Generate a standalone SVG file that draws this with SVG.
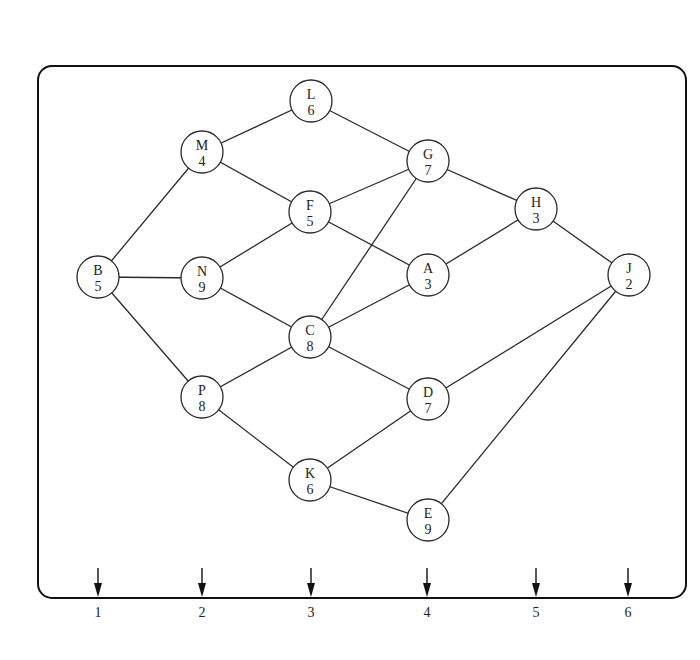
<svg xmlns="http://www.w3.org/2000/svg" width="700" height="660" viewBox="0 0 700 660">
<defs>
<style>
.edge{stroke:#2a2a2a;stroke-width:1.3;fill:none}
.node circle{fill:#fff;stroke:#2a2a2a;stroke-width:1.3}
text{font-family:"Liberation Serif","Times New Roman",serif;font-size:14px;fill:#222;text-anchor:middle}
.tick{stroke:#111;stroke-width:1.4}
</style>
</defs>
<rect width="700" height="660" fill="#fff"/>
<rect x="38" y="66" width="648" height="532" rx="14" ry="14" fill="none" stroke="#111" stroke-width="2"/>
<g id="connectors">
<line class="edge" x1="98" y1="277" x2="202" y2="152"/>
<line class="edge" x1="98" y1="277" x2="202" y2="278"/>
<line class="edge" x1="98" y1="277" x2="202" y2="397"/>
<line class="edge" x1="202" y1="152" x2="311" y2="101"/>
<line class="edge" x1="202" y1="152" x2="310" y2="212"/>
<line class="edge" x1="202" y1="278" x2="310" y2="212"/>
<line class="edge" x1="202" y1="278" x2="310" y2="337"/>
<line class="edge" x1="202" y1="397" x2="310" y2="337"/>
<line class="edge" x1="202" y1="397" x2="310" y2="480"/>
<line class="edge" x1="311" y1="101" x2="428" y2="161"/>
<line class="edge" x1="310" y1="212" x2="428" y2="161"/>
<line class="edge" x1="310" y1="212" x2="428" y2="275"/>
<line class="edge" x1="310" y1="337" x2="428" y2="161"/>
<line class="edge" x1="310" y1="337" x2="428" y2="275"/>
<line class="edge" x1="310" y1="337" x2="428" y2="399"/>
<line class="edge" x1="310" y1="480" x2="428" y2="399"/>
<line class="edge" x1="310" y1="480" x2="428" y2="520"/>
<line class="edge" x1="428" y1="161" x2="536" y2="209"/>
<line class="edge" x1="428" y1="275" x2="536" y2="209"/>
<line class="edge" x1="536" y1="209" x2="629" y2="275"/>
<line class="edge" x1="428" y1="399" x2="629" y2="275"/>
<line class="edge" x1="428" y1="520" x2="629" y2="275"/>
</g>
<g id="node-B" class="node"><circle cx="98" cy="277" r="21"/><text x="98" y="275">B</text><text x="98" y="291">5</text></g>
<g id="node-M" class="node"><circle cx="202" cy="152" r="21"/><text x="202" y="150">M</text><text x="202" y="166">4</text></g>
<g id="node-N" class="node"><circle cx="202" cy="278" r="21"/><text x="202" y="276">N</text><text x="202" y="292">9</text></g>
<g id="node-P" class="node"><circle cx="202" cy="397" r="21"/><text x="202" y="395">P</text><text x="202" y="411">8</text></g>
<g id="node-L" class="node"><circle cx="311" cy="101" r="21"/><text x="311" y="99">L</text><text x="311" y="115">6</text></g>
<g id="node-F" class="node"><circle cx="310" cy="212" r="21"/><text x="310" y="210">F</text><text x="310" y="226">5</text></g>
<g id="node-C" class="node"><circle cx="310" cy="337" r="21"/><text x="310" y="335">C</text><text x="310" y="351">8</text></g>
<g id="node-K" class="node"><circle cx="310" cy="480" r="21"/><text x="310" y="478">K</text><text x="310" y="494">6</text></g>
<g id="node-G" class="node"><circle cx="428" cy="161" r="21"/><text x="428" y="159">G</text><text x="428" y="175">7</text></g>
<g id="node-A" class="node"><circle cx="428" cy="275" r="21"/><text x="428" y="273">A</text><text x="428" y="289">3</text></g>
<g id="node-D" class="node"><circle cx="428" cy="399" r="21"/><text x="428" y="397">D</text><text x="428" y="413">7</text></g>
<g id="node-E" class="node"><circle cx="428" cy="520" r="21"/><text x="428" y="518">E</text><text x="428" y="534">9</text></g>
<g id="node-H" class="node"><circle cx="536" cy="209" r="21"/><text x="536" y="207">H</text><text x="536" y="223">3</text></g>
<g id="node-J" class="node"><circle cx="629" cy="275" r="21"/><text x="629" y="273">J</text><text x="629" y="289">2</text></g>
<g id="axis">
<line class="tick" x1="98" y1="568" x2="98" y2="585"/><path d="M94,583 L102,583 L98,597 Z" fill="#111"/>
<line class="tick" x1="202" y1="568" x2="202" y2="585"/><path d="M198,583 L206,583 L202,597 Z" fill="#111"/>
<line class="tick" x1="311" y1="568" x2="311" y2="585"/><path d="M307,583 L315,583 L311,597 Z" fill="#111"/>
<line class="tick" x1="427" y1="568" x2="427" y2="585"/><path d="M423,583 L431,583 L427,597 Z" fill="#111"/>
<line class="tick" x1="536" y1="568" x2="536" y2="585"/><path d="M532,583 L540,583 L536,597 Z" fill="#111"/>
<line class="tick" x1="628" y1="568" x2="628" y2="585"/><path d="M624,583 L632,583 L628,597 Z" fill="#111"/>
<text x="98" y="617">1</text>
<text x="202" y="617">2</text>
<text x="311" y="617">3</text>
<text x="427" y="617">4</text>
<text x="536" y="617">5</text>
<text x="628" y="617">6</text>
</g>
</svg>
